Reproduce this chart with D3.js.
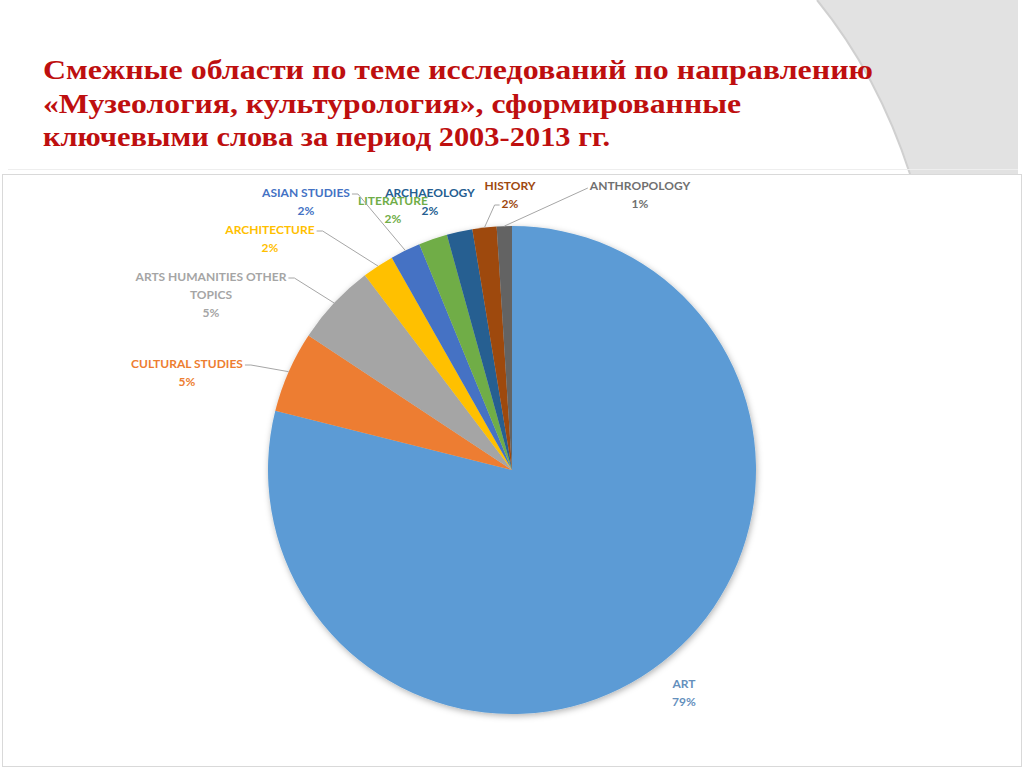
<!DOCTYPE html>
<html>
<head>
<meta charset="utf-8">
<script src="https://cdn.jsdelivr.net/npm/d3@7"></script>
<style>
  body { margin: 0; background: #fff; }
  svg { display: block; }
</style>
</head>
<body>
<script>
// data
var categories = ["ART", "CULTURAL STUDIES", "ARTS HUMANITIES OTHER TOPICS", "ARCHITECTURE",
  "ASIAN STUDIES", "LITERATURE", "ARCHAEOLOGY", "HISTORY", "ANTHROPOLOGY"];
var shares = [78.9, 5.4, 5.4, 2.1, 2.0, 1.9, 1.7, 1.6, 1.0];

var titleLines = [
  "Смежные области по теме исследований по направлению",
  "«Музеология, культурология», сформированные",
  "ключевыми слова за период 2003-2013 гг."
];

// styling / layout
var colors = ["#5B9BD5", "#ED7D31", "#A5A5A5", "#FFC000", "#4472C4", "#70AD47", "#255E91", "#9E480E", "#636363"];
var labelColors = ["#6590bd", "#ED7D31", "#A5A5A5", "#FFC000", "#4472C4", "#70AD47", "#255E91", "#9E480E", "#707070"];
// label placement: center x, first line y, line breaks, where the leader line leaves
var labelLayout = [
  { x: 684, y: 684, lines: ["ART"], leader: null },
  { x: 187, y: 364, lines: ["CULTURAL STUDIES"], leader: "right" },
  { x: 211, y: 277, lines: ["ARTS HUMANITIES OTHER", "TOPICS"], leader: "right" },
  { x: 270, y: 230, lines: ["ARCHITECTURE"], leader: "right" },
  { x: 306, y: 193, lines: ["ASIAN STUDIES"], leader: "right" },
  { x: 393, y: 201, lines: ["LITERATURE"], leader: null },
  { x: 430, y: 193, lines: ["ARCHAEOLOGY"], leader: null },
  { x: 510, y: 186, lines: ["HISTORY"], leader: "leftPct" },
  { x: 640, y: 186, lines: ["ANTHROPOLOGY"], leader: "left" }
];

var width = 1024;
var height = 768;
var cx = 512, cy = 470, radius = 244;
var lineGap = 18;

var svg = d3.select("body").append("svg")
  .attr("width", width)
  .attr("height", height);

var defs = svg.append("defs");
var shadow = defs.append("filter").attr("id", "shadow")
  .attr("x", "-10%").attr("y", "-10%").attr("width", "120%").attr("height", "120%");
shadow.append("feDropShadow")
  .attr("dx", 1).attr("dy", 2).attr("stdDeviation", 3)
  .attr("flood-color", "#000").attr("flood-opacity", 0.3);

// grey decoration top right
svg.append("path")
  .attr("d", "M817,0 Q878,75 910,174 L1018,174 L1018,0 Z")
  .attr("fill", "#e2e2e2");
svg.append("path")
  .attr("d", "M817,0 Q878,75 910,174")
  .attr("fill", "none")
  .attr("stroke", "#d0d0d0")
  .attr("stroke-width", 2);

// title
svg.selectAll("text.title")
  .data(titleLines)
  .enter()
  .append("text")
  .attr("class", "title")
  .attr("x", 43)
  .attr("y", function(d, i) { return 79 + i * 33.5; })
  .attr("textLength", function(d, i) { return [830, 698, 567][i]; })
  .attr("lengthAdjust", "spacingAndGlyphs")
  .attr("font-family", "'Liberation Serif', 'DejaVu Serif', serif")
  .attr("font-weight", "bold")
  .attr("font-size", "27px")
  .attr("fill", "#BE0F0F")
  .text(function(d) { return d; });

// chart frame
svg.append("line")
  .attr("x1", 8).attr("x2", 1018).attr("y1", 169.5).attr("y2", 169.5)
  .attr("stroke", "#eeeeee");
svg.append("rect")
  .attr("x", 2.5).attr("y", 174.5)
  .attr("width", 1019).attr("height", 592)
  .attr("fill", "#fff")
  .attr("stroke", "#d9d9d9");

var total = d3.sum(shares);
var pie = d3.pie().sort(null).value(function(d) { return d; });
var arcs = pie(shares);
var arc = d3.arc().innerRadius(0).outerRadius(radius);
var rim = d3.arc().innerRadius(radius).outerRadius(radius);

var g = svg.append("g").attr("transform", "translate(" + cx + "," + cy + ")");

g.append("g")
  .attr("filter", "url(#shadow)")
  .selectAll("path")
  .data(arcs)
  .enter()
  .append("path")
  .attr("d", arc)
  .attr("fill", function(d, i) { return colors[i]; });

// labels
var labels = svg.append("g")
  .attr("font-family", "Lato, 'Open Sans', sans-serif")
  .attr("font-weight", "bold")
  .attr("font-size", "12px");

var leaders = svg.append("g")
  .attr("fill", "none")
  .attr("stroke", "#a6a6a6")
  .attr("stroke-width", 1);

arcs.forEach(function(a, i) {
  var lay = labelLayout[i];
  var pct = Math.round(a.data / total * 100) + "%";
  var rows = lay.lines.concat([pct]);
  var t = labels.append("text")
    .attr("text-anchor", "middle")
    .attr("fill", labelColors[i]);
  rows.forEach(function(r, k) {
    t.append("tspan")
      .attr("x", lay.x)
      .attr("y", lay.y + k * lineGap)
      .attr("dy", "0.35em")
      .text(r);
  });
  if (!lay.leader) return;
  var tsp = t.selectAll("tspan").nodes();
  var end = rim.centroid(a);
  var ex = cx + end[0], ey = cy + end[1];
  var sx, sy, bx;
  if (lay.leader === "right") {
    sx = lay.x + tsp[0].getComputedTextLength() / 2 + 2;
    sy = lay.y + 1;
    bx = sx + 6;
  } else if (lay.leader === "leftPct") {
    sx = lay.x - tsp[tsp.length - 1].getComputedTextLength() / 2 - 2;
    sy = lay.y + lineGap + 1;
    bx = sx - 5;
  } else {
    sx = lay.x - tsp[0].getComputedTextLength() / 2 - 2;
    sy = lay.y + 2;
    bx = sx;
  }
  leaders.append("path")
    .attr("d", "M" + sx + "," + sy + "L" + bx + "," + sy + "L" + ex + "," + ey);
});
</script>
</body>
</html>
